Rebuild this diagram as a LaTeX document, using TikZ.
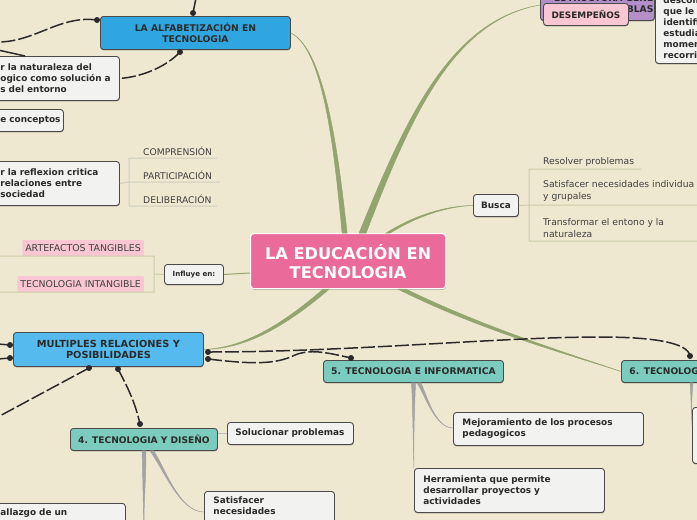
\documentclass[tikz,border=0pt]{standalone}
\usepackage{fontspec}
\setmainfont{DejaVu Sans}
\usetikzlibrary{shadows,calc}
\definecolor{bgc}{HTML}{EFE8D1}
\definecolor{greenb}{HTML}{93A56F}
\definecolor{thinb}{HTML}{C9CDA6}
\definecolor{grayb}{HTML}{A3A3A3}
\definecolor{ink}{HTML}{2A2A2A}
\definecolor{boxf}{HTML}{F2F2F0}
\definecolor{pinkl}{HTML}{F9C6D3}
\definecolor{teal1}{HTML}{7BCCBF}
\newcommand{\taperpath}[7]{\filldraw[fill=#1,draw=#1,line width=0.5pt] #2 .. controls #4 and #5 .. #6 .. controls ($#5+0.25*#7$) and ($#4+#7$) .. #3 -- cycle;}
\tikzset{
 basebox/.style={draw=ink!85,line width=0.9pt,rounded corners=3pt,anchor=north west,inner ysep=0pt,
   drop shadow={shadow xshift=0.3pt,shadow yshift=-1pt,fill=black,opacity=0.35}},
 whitebox/.style={basebox,fill=boxf,text=ink,font=\fontsize{8.9}{11}\selectfont\bfseries,align=left,inner xsep=9pt},
 titlebox/.style={basebox,text=ink,font=\fontsize{9.2}{11}\selectfont\bfseries,align=center,inner xsep=2pt},
 labelt/.style={text=ink!90,font=\fontsize{9.2}{12}\selectfont,anchor=west,inner sep=0pt,align=left},
 pinklabel/.style={fill=pinkl,rounded corners=1pt,text=ink!90,font=\fontsize{9.4}{11}\selectfont,inner xsep=3pt,inner ysep=0pt,minimum height=16pt,anchor=north east},
 dashc/.style={draw=ink,line width=1.5pt,dash pattern=on 14pt off 3pt},
 solidc/.style={draw=ink,line width=1.5pt},
 dotn/.style={circle,fill=ink,inner sep=0pt,minimum size=6pt},
 thinl/.style={draw=thinb,line width=1pt},
 grayl/.style={draw=grayb,line width=1pt},
}
\begin{document}
\begin{tikzpicture}[x=1pt,y=-1pt]
\useasboundingbox (0,0) rectangle (697,520);
\clip (0,0) rectangle (697,520);
\fill[bgc] (0,0) rectangle (697,520);

% nodes
\node[titlebox,fill={rgb,255:red,47;green,166;blue,224},minimum width=190pt,minimum height=33pt] (alf) at (100,16) {LA ALFABETIZACIÓN EN\\TECNOLOGIA};
\node[whitebox,text width=139pt,minimum height=44pt,inner xsep=0pt] (nat) at (-20,56) {\hspace*{20pt}r la naturaleza del\\\hspace*{20pt}ogico como solución a\\\hspace*{20pt}s del entorno};
\node[whitebox,text width=83pt,minimum height=22pt,inner xsep=0pt] (con) at (-20,109) {\hspace*{20pt}e conceptos};
\node[whitebox,text width=139pt,minimum height=44pt,inner xsep=0pt] (ref) at (-20,161) {\hspace*{20pt}r la reflexion critica\\\hspace*{20pt}relaciones entre\\\hspace*{20pt}sociedad};
\node[labelt] (com) at (143,151) {COMPRENSIÓN};
\node[labelt] (par) at (143,175) {PARTICIPACIÓN};
\node[labelt] (del) at (143,199) {DELIBERACIÓN};
\coordinate (brt) at (129,158); \coordinate (brm) at (129,182); \coordinate (brb) at (129,206);
\draw[thinl,draw=thinb!60!gray!60] (brt) -- (217,158) (brm) -- (220,182) (brb) -- (217,206) (brt) -- (brb) (ref.east) -- (brm);

\node[whitebox,inner xsep=0pt,align=center,text width=45pt,minimum height=22pt] (bus) at (473,194) {Busca};
\node[labelt] (res) at (543,162) {Resolver problemas};
\node[labelt] (sat) at (543,191) {Satisfacer necesidades individua\\y grupales};
\node[labelt] (tra) at (543,228) {Transformar el entono y la\\naturaleza};
\coordinate (bbt) at (529,169); \coordinate (bbm) at (529,205); \coordinate (bbb) at (529,241);
\draw[thinl] (bbt) -- (641,169) (bbm) -- (697,205) (bbb) -- (697,241) (bbt) -- (bbb) (bus.east) -- (bbm);

\node[whitebox,inner xsep=0pt,align=center,text width=59pt,minimum height=20pt,font=\fontsize{7.1}{9}\selectfont\bfseries] (inf) at (164,264) {Influye en:};
\node[pinklabel] (art) at (144,240) {ARTEFACTOS TANGIBLES};
\node[pinklabel] (int) at (144,276) {TECNOLOGIA INTANGIBLE};
\coordinate (ibt) at (154,256); \coordinate (ibm) at (154,274); \coordinate (ibb) at (154,292);
\draw[thinl] (0,256) -- (ibt) -- (ibb) -- (0,292) (ibm) -- (inf.west);

\node[titlebox,fill={rgb,255:red,85;green,187;blue,238},minimum width=190pt,minimum height=34pt,font=\fontsize{9.8}{11}\selectfont\bfseries] (mul) at (13,332) {MULTIPLES RELACIONES Y\\POSIBILIDADES};
\node[titlebox,fill=teal1,minimum width=147pt,minimum height=22pt,font=\fontsize{9.1}{11}\selectfont\bfseries] (t4) at (70,428) {4. TECNOLOGIA Y DISEÑO};
\node[whitebox,text width=110pt,inner xsep=8pt,minimum height=22pt] (sol) at (227,422) {\mbox{Solucionar problemas}};
\node[whitebox,text width=112pt,minimum height=0pt,inner ysep=5pt] (sn) at (204,491) {Satisfacer\\necesidades\\\strut\\\strut};
\node[whitebox,text width=145pt,minimum height=0pt,inner xsep=0pt,inner ysep=5pt] (hal) at (-20,503) {\hspace*{20pt}allazgo de un\\\strut\\\strut\\\strut};
\node[titlebox,fill=teal1,minimum width=180pt,minimum height=22pt] (t5) at (323,360) {5. TECNOLOGIA E INFORMATICA};
\node[whitebox,text width=172pt,minimum height=33pt] (mej) at (453,412) {Mejoramiento de los procesos\\pedagogicos};
\node[whitebox,text width=172pt,minimum height=44pt] (her) at (414,468) {Herramienta que permite\\desarrollar proyectos y\\actividades};
\node[titlebox,fill=teal1,minimum width=120pt,minimum height=22pt,text width=110pt,align=left,inner xsep=8pt,font=\fontsize{9.1}{11}\selectfont\bfseries] (t6) at (621,360) {6. TECNOLOG};
\node[whitebox,text width=30pt,minimum height=56pt,fill=boxf] (r6) at (692,407) {};

% top right
\node[titlebox,fill={rgb,255:red,178;green,143;blue,201},text width=112pt,align=right,inner xsep=1pt,minimum height=33pt] (est) at (540,-13) {ESTRUCTURA GENE\\BLAS};
\node[titlebox,fill=pinkl,minimum width=85pt,minimum height=22pt,font=\fontsize{8.9}{11}\selectfont\bfseries] (dese) at (543,3) {DESEMPEÑOS};
\node[whitebox,text width=60pt,inner xsep=8pt,minimum height=71pt] (dsc) at (655,-8) {descomp\\que le\\identifi\\estudia\\momen\\recorri};

% centre
\node[basebox,draw=white,line width=1.2pt,drop shadow={opacity=0},fill={rgb,255:red,234;green,106;blue,154},text=white,font=\fontsize{16.2}{19}\selectfont\bfseries,align=center,minimum width=195pt,minimum height=55pt,yshift=0pt] (ctr) at (250,233) {LA EDUCACIÓN EN\\TECNOLOGIA};

% main green branches
\taperpath{greenb}{([xshift=-6pt]ctr.north)}{([xshift=-1pt]ctr.north)}{(335,160)}{(325,50)}{(alf.east)}{(4,0)}
\taperpath{greenb}{([xshift=11pt]ctr.north)}{([xshift=18pt]ctr.north)}{(405,120)}{(450,20)}{(est.west|-0,5)}{(4,2)}
\taperpath{greenb}{([xshift=38pt]ctr.north)}{([xshift=42pt]ctr.north)}{(415,215)}{(445,206)}{(bus.west)}{(1,2)}
\taperpath{greenb}{([xshift=-25pt]ctr.south)}{([xshift=-19pt]ctr.south)}{(270,335)}{(235,348)}{(mul.east)}{(2,3)}
\taperpath{greenb}{([xshift=50pt]ctr.south)}{([xshift=58pt]ctr.south)}{(480,330)}{(560,352)}{(t6.west)}{(1.5,-4)}
\draw[greenb,line width=1pt] (inf.east) -- (ctr.west|-0,273);

% gray branches
\taperpath{grayb}{([xshift=72pt]t4.south west)}{([xshift=76pt]t4.south west)}{(143,480)}{(143,500)}{(144,530)}{(3,0)}
\taperpath{grayb}{([xshift=80pt]t4.south west)}{([xshift=84pt]t4.south west)}{(165,472)}{(180,512)}{(sn.west|-0,512)}{(1.5,0)}
\taperpath{grayb}{([xshift=88.5pt]t5.south west)}{([xshift=92.5pt]t5.south west)}{(413,410)}{(413,440)}{(her.north west)}{(1.5,0)}
\taperpath{grayb}{([xshift=94pt]t5.south west)}{([xshift=98pt]t5.south west)}{(425,395)}{(435,428)}{(mej.west|-0,428)}{(1.5,0)}
\taperpath{grayb}{([xshift=69pt]t6.south west)}{([xshift=72pt]t6.south west)}{(691,395)}{(691,405)}{(692,425)}{(1,0)}
\draw[grayl,draw=grayb!70] (t4.east|-0,433) -- (sol.west|-0,433);

% dots
\node[dotn] (d1) at (193,13) {};
\node[dotn] (d2) at (97,20) {};
\node[dotn] (d3) at (180,52) {};
\node[dotn] (d4) at (10,345) {};
\node[dotn] (d5) at (10,358) {};
\node[dotn] (d6) at (89,368) {};
\node[dotn] (d7) at (118,369) {};
\node[dotn] (d8) at (140,424) {};
\node[dotn] (d9) at (208,352) {};
\node[dotn] (d10) at (208,359) {};
\node[dotn] (d11) at (351,358) {};
\node[dotn] (d12) at (690,356) {};
\coordinate (e1) at (196,-2); \coordinate (e2) at (-2,42); \coordinate (e3) at (-2,50);
\coordinate (e4) at (-2,344); \coordinate (e5) at (-2,359); \coordinate (e6) at (-4,418);
\coordinate (e7) at (25,56);

% dashed connectors
\draw[solidc] (d1.center) -- (e1);
\draw[dashc] (d2.center) .. controls (60,15) and (35,42) .. (e2);
\draw[solidc] (e3) -- (e7);
\draw[dashc] (d3.center) .. controls (165,68) and (140,77) .. (nat.east);
\draw[solidc] (d4.center) -- (e4);
\draw[solidc] (d5.center) -- (e5);
\draw[dashc] (d6.center) -- (e6);
\draw[dashc] (d7.center) .. controls (128,388) and (135,402) .. (d8.center);
\draw[dashc] (d9.center) .. controls (350,352) and (500,337) .. (600,337) .. controls (650,337) and (688,342) .. (d12.center);
\draw[dashc] (d10.center) .. controls (250,364) and (275,365) .. (295,355) .. controls (310,349) and (325,352) .. (d11.center);
\end{tikzpicture}
\end{document}
